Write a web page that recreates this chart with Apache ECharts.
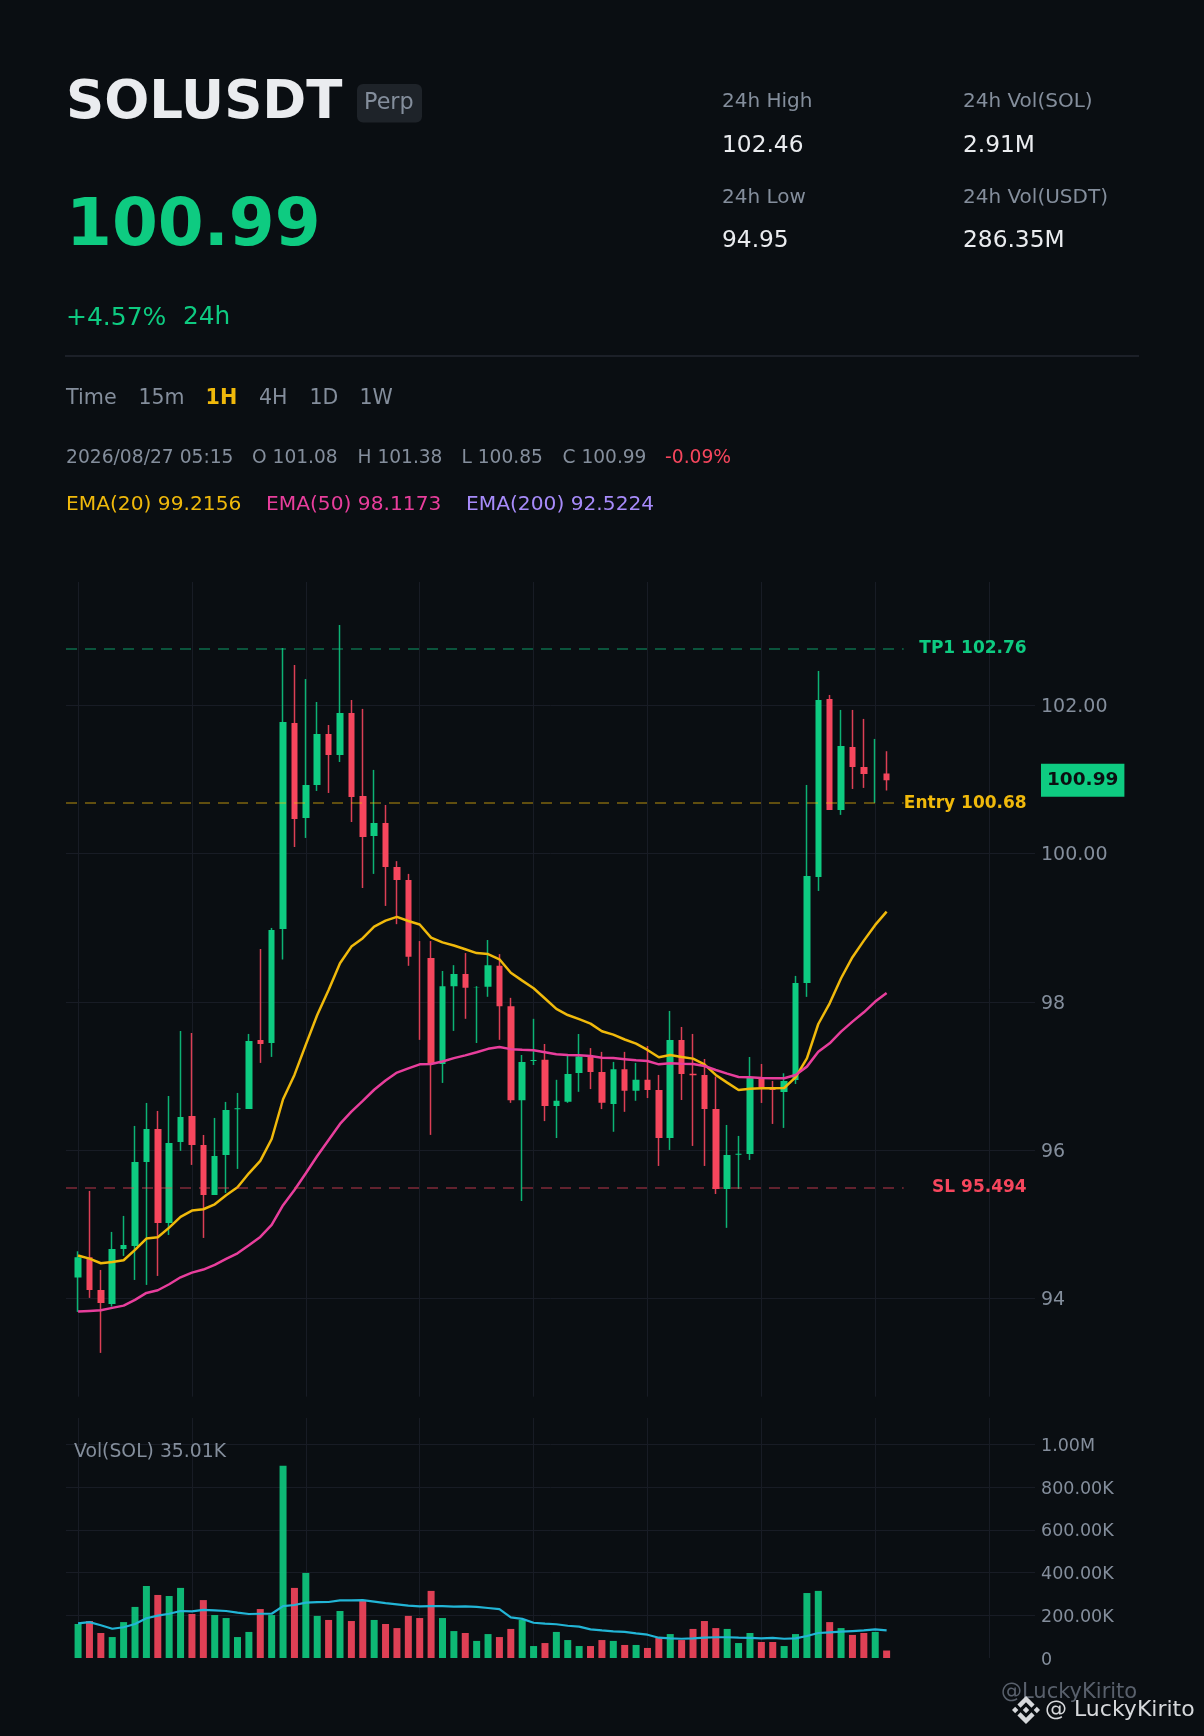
<!DOCTYPE html>
<html>
<head>
<meta charset="utf-8">
<style>html,body{margin:0;padding:0;background:#0a0e12}#c{width:1204px;height:1736px}</style>
<script src="https://cdn.jsdelivr.net/npm/echarts@6/dist/echarts.min.js"></script>
</head>
<body>
<div id="c"></div>
<script>
const opens  = [94.279,94.553,94.113,93.924,94.666,94.706,95.839,96.284,95.016,96.109,96.46,96.068,95.394,95.934,96.55,96.554,97.485,97.444,98.982,101.761,100.479,100.924,101.612,101.329,101.896,100.775,100.236,100.413,99.818,99.642,98.601,98.592,97.161,98.211,98.374,98.19,98.202,98.485,97.941,96.673,97.2,97.217,96.594,96.65,97.04,97.263,97.054,96.622,97.091,96.799,96.947,96.81,96.163,97.485,97.03,97.013,96.554,95.475,95.935,95.947,96.986,96.85,96.783,96.945,98.254,99.684,102.085,100.588,101.438,101.168,101.08,101.08];
const closes = [94.553,94.113,93.937,94.666,94.72,95.839,96.284,95.016,96.095,96.446,96.068,95.394,95.92,96.541,96.565,97.471,97.431,98.969,101.774,100.466,100.924,101.612,101.329,101.896,100.763,100.223,100.413,99.818,99.642,98.606,98.6,97.161,98.211,98.374,98.188,98.191,98.494,97.941,96.673,97.189,97.215,96.594,96.664,97.026,97.263,97.054,96.636,97.091,96.799,96.947,96.81,96.163,97.485,97.026,97.01,96.554,95.475,95.933,95.95,96.986,96.842,96.81,96.932,98.254,99.698,102.072,100.588,101.451,101.168,101.074,101.081,100.99];
const lows   = [93.816,94.005,93.263,93.888,94.571,94.247,94.18,94.301,94.854,95.988,95.799,94.814,95.394,95.421,95.745,96.554,97.175,97.256,98.57,100.088,100.21,100.844,100.817,101.235,100.425,99.535,99.725,99.293,99.047,98.485,97.486,96.204,96.905,97.607,97.77,97.444,98.067,97.486,96.636,95.312,97.147,96.39,96.162,96.636,96.785,96.822,96.552,96.246,96.515,96.664,96.701,95.785,96.001,96.675,96.055,95.785,95.407,94.95,95.475,95.866,96.635,96.352,96.298,96.891,98.066,99.495,100.588,100.521,100.871,100.885,100.683,100.85];
const highs  = [94.634,95.448,94.382,94.895,95.111,96.325,96.635,96.527,96.729,97.606,97.579,96.203,96.433,96.649,96.77,97.566,98.712,98.996,102.773,102.543,102.354,102.044,101.734,103.083,102.071,101.951,101.128,100.655,99.897,99.725,98.819,98.819,98.415,98.494,98.657,98.211,98.833,98.643,98.053,97.282,97.77,97.43,96.947,97.277,97.565,97.375,97.324,97.189,97.324,97.175,97.403,97.013,97.876,97.66,97.566,97.228,96.99,96.338,96.19,97.255,97.161,96.932,97.035,98.349,100.925,102.463,102.139,101.937,101.937,101.816,101.546,101.38];
const ema20  = [94.576,94.535,94.472,94.49,94.513,94.652,94.805,94.823,94.953,95.097,95.183,95.201,95.268,95.39,95.497,95.686,95.853,96.149,96.685,97.013,97.422,97.822,98.159,98.519,98.744,98.857,99.015,99.094,99.145,99.089,99.043,98.866,98.801,98.759,98.708,98.657,98.643,98.573,98.392,98.285,98.183,98.044,97.904,97.821,97.765,97.705,97.602,97.556,97.491,97.435,97.35,97.251,97.282,97.255,97.233,97.156,97.013,96.909,96.81,96.828,96.833,96.833,96.837,96.981,97.237,97.7,97.979,98.317,98.601,98.825,99.037,99.2156];
const ema50  = [93.82,93.829,93.838,93.87,93.901,93.978,94.072,94.108,94.189,94.283,94.346,94.387,94.45,94.531,94.607,94.715,94.827,94.989,95.255,95.461,95.686,95.92,96.136,96.352,96.518,96.664,96.813,96.938,97.045,97.101,97.156,97.161,97.194,97.24,97.277,97.319,97.365,97.389,97.361,97.352,97.347,97.319,97.291,97.282,97.277,97.268,97.245,97.24,97.226,97.212,97.2,97.156,97.17,97.165,97.161,97.134,97.08,97.031,96.986,96.981,96.972,96.968,96.968,97.013,97.125,97.327,97.44,97.597,97.732,97.858,98.002,98.1173];
const volumes = [159,173,117,98,168,239,337,295,290,328,206,271,201,187,98,122,229,201,899,328,398,197,178,220,173,267,178,159,140,197,187,314,187,126,117,80,112,98,136,178,56,70,122,84,56,56,84,80,61,61,47,94,112,84,136,173,140,136,70,117,75,75,56,112,304,314,168,140,108,117,122,35.01];
const volMa  = [162,168,153,137,144,159,186,198,207,220,218,225,223,220,212,206,207,207,243,248,259,261,262,270,270,271,264,257,251,245,242,243,243,240,242,239,234,229,190,183,165,161,158,151,147,134,129,125,122,115,109,95,92,90,92,95,97,97,95,94,92,94,90,92,103,117,120,123,126,129,134,129];
const priceTicks = [94,96,98,100,102];
const priceTickLabels = ['94','96','98','100.00','102.00'];
const volTicks = [0,200,400,600,800,1000];
const volTickLabels = ['0','200.00K','400.00K','600.00K','800.00K','1.00M'];
const timeTicks = [0,10,20,30,40,50,60,70,80];
const levels = [
  {name:'TP1 102.76', value:102.76, color:'#0ecb81', dash:'rgba(14,203,129,0.5)'},
  {name:'Entry 100.68', value:100.68, color:'#f0b90b', dash:'rgba(240,185,11,0.5)'},
  {name:'SL 95.494', value:95.494, color:'#f6465d', dash:'rgba(246,70,93,0.5)'}
];
const lastPrice = 100.99;

const UP='#0ecb81', DOWN='#f6465d', UPW='#0cb274', DOWNW='#dc3f55', GREY='#848e9c', BG='#0a0e12', GRID='#181c25';
const FONT='"DejaVu Sans"';

const xIdx = opens.map((_,i)=>i);
const ohlc = xIdx.map(i=>[i,opens[i],closes[i],lows[i],highs[i]]);
const line = a => a.map((v,i)=>[i,v]);
const XMIN=-1.06, XMAX=84.03, LEVEL_END=72.5;

function t(x,cy,text,size,fill,bold){
  return {type:'text',x:x,y:cy+0.106*size,z:10,style:{text:text,fill:fill,font:(bold?'bold ':'')+size+'px '+FONT,verticalAlign:'middle',align:'left'}};
}
const logoParts = [
  [[38.73,53.2],[63.32,28.62],[87.92,53.22],[102.22,38.91],[63.32,0],[24.43,38.89]],
  [[0,63.31],[14.3,49],[28.61,63.31],[14.3,77.61]],
  [[38.73,73.41],[63.32,98],[87.92,73.4],[102.23,87.69],[63.33,126.6],[24.42,87.72]],
  [[98,63.31],[112.3,49],[126.61,63.3],[112.3,77.6]],
  [[77.83,63.3],[63.32,48.78],[48.81,63.28],[63.32,77.78]]
];
const graphics = [
  t(66,98.5,'SOLUSDT',53,'#eaecef',true),
  {type:'rect',shape:{x:357,y:84,width:65,height:38.5,r:6},style:{fill:'#1e2329'},z:9},
  t(364,100.6,'Perp',22.3,GREY),
  t(66,221,'100.99',66,UP,true),
  t(66,315.4,'+4.57%',25,UP),
  t(183,315.4,'24h',24.8,UP),
  {type:'rect',shape:{x:65,y:355,width:1074,height:2},style:{fill:'#1c2028'},z:9},
  t(66,396,'Time',20.7,GREY), t(138.5,396,'15m',20.5,GREY), t(205.5,396,'1H',20.7,'#f0b90b',true),
  t(259,396,'4H',20.5,GREY), t(309.5,396,'1D',20.5,GREY), t(359.5,396,'1W',20.5,GREY),
  t(66,456,'2026/08/27 05:15',18.7,GREY), t(252,456,'O 101.08',18.6,GREY), t(357.5,456,'H 101.38',18.6,GREY),
  t(461.5,456,'L 100.85',18.6,GREY), t(562.5,456,'C 100.99',18.6,GREY), t(665,456,'-0.09%',18.7,DOWN),
  t(66,503,'EMA(20) 99.2156',20.2,'#f0b90b'), t(266,503,'EMA(50) 98.1173',20.2,'#e83e9c'), t(466,503,'EMA(200) 92.5224',20.2,'#a78bfa'),
  t(722,100,'24h High',20,GREY), t(722,143,'102.46',23.3,'#eaecef'),
  t(722,195.5,'24h Low',20,GREY), t(722,238,'94.95',23.3,'#eaecef'),
  t(963,100,'24h Vol(SOL)',20,GREY), t(963,143,'2.91M',23.3,'#eaecef'),
  t(963,195.5,'24h Vol(USDT)',20,GREY), t(963,238,'286.35M',23.3,'#eaecef'),
  t(74,1449.7,'Vol(SOL) 35.01K',18.8,GREY),
  {type:'text',x:1001,y:1693,z:10,style:{text:'@LuckyKirito',fill:'rgba(132,142,156,0.65)',font:'21px '+FONT,verticalAlign:'middle'}},
  {type:'text',x:1045,y:1710,z:11,style:{text:'@ LuckyKirito',fill:'#d6d8db',font:'22px '+FONT,verticalAlign:'middle'}}
].concat(logoParts.map(p=>({type:'polygon',z:11,x:1012,y:1696,scaleX:28/126.61,scaleY:28/126.61,shape:{points:p},style:{fill:'#d6d8db'}})));

const levelLines = levels.map(l=>[
  {coord:[XMIN,l.value],lineStyle:{color:l.dash,width:1.5,type:[11,8]},
   label:{show:true,position:'end',distance:123,align:'right',formatter:l.name,color:l.color,fontFamily:FONT,fontWeight:'bold',fontSize:17,padding:[0,0,4,0]}},
  {coord:[LEVEL_END,l.value]}
]);
const priceTag = [
  {coord:[83.9,lastPrice],lineStyle:{color:'rgba(0,0,0,0)',width:0},
   label:{show:true,position:'end',distance:6,align:'left',formatter:lastPrice.toFixed(2),color:'#0b0e11',backgroundColor:UP,fontFamily:FONT,fontWeight:'bold',fontSize:18.5,padding:[7,6,7,6]}},
  {coord:[XMAX,lastPrice]}
];

const yLabel = (ticks,labels)=>v=>{const k=ticks.indexOf(v);return k<0?'':'{a|'+labels[k]+'}';};

const chart = echarts.init(document.getElementById('c'),null,{width:1204,height:1736});
chart.setOption({
  backgroundColor:BG,
  animation:false,
  graphic:graphics,
  grid:[
    {left:66,right:169,top:582,height:814.7},
    {left:66,right:169,top:1418,height:240}
  ],
  xAxis:[0,1].map(i=>({
    type:'value',gridIndex:i,min:XMIN,max:XMAX,
    axisLine:{show:false},axisLabel:{show:false},
    axisTick:{show:false,customValues:timeTicks},
    splitLine:{show:true,lineStyle:{color:GRID,width:1}}
  })),
  yAxis:[
    {type:'value',gridIndex:0,position:'right',min:92.672,max:103.663,
     axisLine:{show:false},axisTick:{show:false,customValues:priceTicks},
     axisLabel:{customValues:priceTicks,margin:6,formatter:yLabel(priceTicks,priceTickLabels),
       rich:{a:{color:GREY,fontSize:19,fontFamily:FONT,padding:[4,0,0,0]}}},
     splitLine:{show:true,lineStyle:{color:GRID,width:1}}},
    {type:'value',gridIndex:1,position:'right',min:0,max:1123,
     axisLine:{show:false},axisTick:{show:false,customValues:volTicks},
     axisLabel:{customValues:volTicks,margin:6,formatter:yLabel(volTicks,volTickLabels),
       rich:{a:{color:GREY,fontSize:17.5,fontFamily:FONT,padding:[4,0,0,0]}}},
     splitLine:{show:true,showMinLine:false,lineStyle:{color:GRID,width:1}}}
  ],
  series:[
    {name:'wick',type:'candlestick',xAxisIndex:0,yAxisIndex:0,z:2,barWidth:1,data:ohlc,silent:true,
     itemStyle:{color:UPW,color0:DOWNW,borderColor:UPW,borderColor0:DOWNW,borderWidth:1.5},
     markLine:{silent:true,symbol:'none',animation:false,data:levelLines.concat([priceTag]),z:6}},
    {name:'body',type:'candlestick',xAxisIndex:0,yAxisIndex:0,z:3,barWidth:7,data:ohlc,silent:true,
     itemStyle:{color:UP,color0:DOWN,borderColor:UP,borderColor0:DOWN,borderWidth:0}},
    {name:'EMA(20)',type:'line',xAxisIndex:0,yAxisIndex:0,z:4,data:line(ema20),showSymbol:false,silent:true,lineStyle:{color:'#f0b90b',width:2.5}},
    {name:'EMA(50)',type:'line',xAxisIndex:0,yAxisIndex:0,z:4,data:line(ema50),showSymbol:false,silent:true,lineStyle:{color:'#e83e9c',width:2.5}},
    {name:'Vol',type:'bar',xAxisIndex:1,yAxisIndex:1,z:2,barWidth:7,silent:true,
     data:volumes.map((v,i)=>({value:[i,v],itemStyle:{color:closes[i]>=opens[i]?UP:DOWN,opacity:.9}}))},
    {name:'Vol MA',type:'line',xAxisIndex:1,yAxisIndex:1,z:4,data:line(volMa),showSymbol:false,silent:true,lineStyle:{color:'#22b5d6',width:2.2}}
  ]
});
</script>
</body>
</html>
